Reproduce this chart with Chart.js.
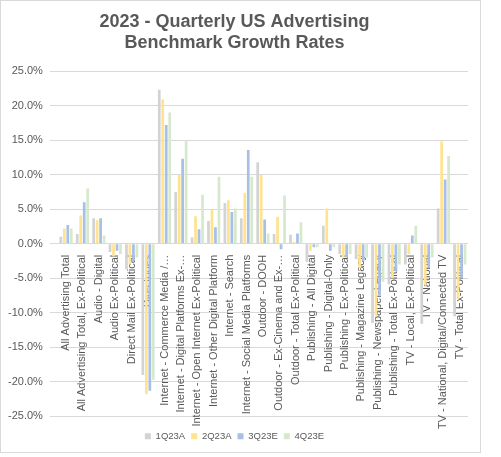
<!DOCTYPE html>
<html>
<head>
<meta charset="utf-8">
<script src="https://cdn.jsdelivr.net/npm/chart.js@4"></script>
<style>
  body { margin: 0; background: #fff; }
  #wrap { position: absolute; left: 0; top: 0; width: 479px; height: 451px; border: 1px solid #d9d9d9; }
</style>
</head>
<body>
<div id="wrap"><canvas id="myChart"></canvas></div>
<script>
const ctx = document.getElementById('myChart');

const categorias = [
    'All Advertising Total',
    'All Advertising Total, Ex-Political',
    'Audio - Digital',
    'Audio Ex-Political',
    'Direct Mail Ex-Political',
    'Directories',
    'Internet - Commerce Media /…',
    'Internet - Digital Platforms Ex-…',
    'Internet - Open Internet Ex-Political',
    'Internet - Other Digital Platform',
    'Internet - Search',
    'Internet - Social Media Platforms',
    'Outdoor - DOOH',
    'Outdoor - Ex-Cinema and Ex-…',
    'Outdoor - Total Ex-Political',
    'Publishing - All Digital',
    'Publishing - Digital-Only',
    'Publishing - Ex-Political',
    'Publishing - Magazine Legacy',
    'Publishing - Newspaper-Legacy',
    'Publishing - Total Ex-Political',
    'TV - Local, Ex-Political',
    'TV - National',
    'TV - National, Digital/Connected TV',
    'TV - Total Ex-Political'
]

const q1_23a = [1.0, 1.4, 3.7, -1.2, -3.7, -19.0, 22.3, 7.5, 0.9, 3.3, 5.9, 3.7, 11.8, 1.4, 1.3, -2.6, 2.6, -1.5, -2.2, -11.5, -5.9, -3.0, -11.6, 5.1, -10.5]
const q2_23a = [2.2, 4.1, 3.4, -1.8, -3.0, -21.8, 20.9, 10.0, 4.0, 4.9, 6.3, 7.4, 10.0, 3.9, 0.3, -1.0, 5.1, -2.0, -3.5, -10.5, -5.0, -1.5, -6.0, 14.8, -8.0]
const q3_23e = [2.7, 6.0, 3.7, -1.0, -2.5, -21.3, 17.2, 12.3, 2.1, 2.4, 4.6, 13.6, 3.5, -0.8, 1.5, -0.5, -1.0, -2.0, -2.5, -7.5, -4.0, 1.2, -3.5, 9.3, -5.0]
const q4_23e = [2.2, 8.0, 1.2, -1.5, -2.0, -19.7, 19.0, 15.0, 7.1, 9.7, 5.1, 9.7, 1.5, 7.0, 3.1, -0.5, -0.5, -1.5, -2.0, -5.5, -3.0, 2.6, -2.0, 12.7, -3.0]

const series = ['1Q23A', '2Q23A', '3Q23E', '4Q23E']
const cores = ['#d3d3d3', '#ffe38f', '#a8bfe6', '#d6e9cc']

const dados = [q1_23a, q2_23a, q3_23e, q4_23e]
const datasets = series.map((s, i) => ({
    label: s,
    data: dados[i],
    backgroundColor: cores[i],
    categoryPercentage: 0.85,
    barPercentage: 0.78
}))

const cinza = '#595959'

new Chart(ctx, {
    type: 'bar',
    data: {
        labels: categorias,
        datasets: datasets
    },
    options: {
        responsive: true,
        maintainAspectRatio: false,
        animation: false,
        layout: {
            padding: { left: 0, right: 12, top: 6, bottom: 1 }
        },
        plugins: {
            title: {
                display: true,
                text: ['2023 - Quarterly US Advertising', 'Benchmark Growth Rates'],
                color: cinza,
                font: { family: 'Liberation Sans, Arial', size: 18, weight: 'bold', lineHeight: 1.2 },
                padding: { top: 4, bottom: 17 }
            },
            legend: {
                position: 'bottom',
                title: {
                    // empty title, only used as a gap above the legend items
                    display: true,
                    text: ' ',
                    font: { size: 1 },
                    padding: { top: 0, bottom: 8 }
                },
                labels: {
                    color: cinza,
                    boxWidth: 6,
                    boxHeight: 6,
                    padding: 6,
                    font: { family: 'Liberation Sans, Arial', size: 9.5 }
                }
            },
            tooltip: { enabled: false }
        },
        scales: {
            x: {
                position: { y: 0 },
                z: 1,
                grid: { display: false },
                border: { display: false },
                ticks: {
                    autoSkip: false,
                    maxRotation: 90,
                    minRotation: 90,
                    padding: 3,
                    color: cinza,
                    font: { family: 'Liberation Sans, Arial', size: 11 }
                }
            },
            y: {
                min: -25,
                max: 25,
                grid: { color: '#d9d9d9' },
                border: { display: false },
                ticks: {
                    stepSize: 5,
                    padding: 7,
                    color: cinza,
                    font: { family: 'Liberation Sans, Arial', size: 11 },
                    callback: (v) => v.toFixed(1) + '%'
                }
            }
        }
    }
})
</script>
</body>
</html>
